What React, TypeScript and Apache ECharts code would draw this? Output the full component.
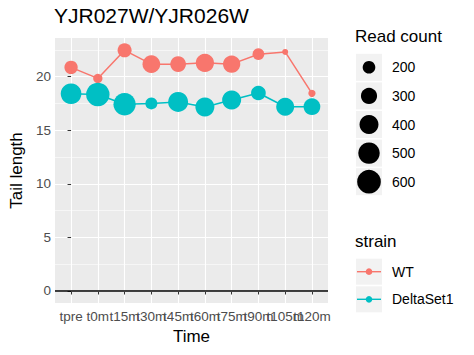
import React, { useEffect, useRef } from 'react';
import * as echarts from 'echarts';

const categories = ['tpre', 't0m', 't15m', 't30m', 't45m', 't60m', 't75m', 't90m', 't105m', 't120m'];
const wtTail = [20.86, 19.83, 22.45, 21.16, 21.16, 21.28, 21.16, 22.09, 22.3, 18.44];
const wtCount = [217, 126, 236, 353, 286, 375, 339, 177, 76, 93];
const dsTail = [18.4, 18.33, 17.42, 17.5, 17.64, 17.16, 17.82, 18.47, 17.19, 17.19];
const dsCount = [468, 590, 537, 184, 440, 401, 401, 256, 364, 319];
const sizeBreaks = [200, 300, 400, 500, 600];
const yTicks = [0, 5, 10, 15, 20];
const yMinor = [2.5, 7.5, 12.5, 17.5, 22.5];
const strains = ['WT', 'DeltaSet1'];

const colors = ['#F8766D', '#00BFC4'];
const FONT = "'Liberation Sans', Arial, Helvetica, sans-serif";
const sizeOf = (v: number) => Math.sqrt(Math.max(v - 40, 16));

export default function App() {
  const ref = useRef<HTMLDivElement>(null);
  useEffect(() => {
    const chart = echarts.init(ref.current!, null, { renderer: 'svg' });
    const xIdx = categories.map((_, i) => i);
    const evenIdx = xIdx.filter((i) => i % 2 === 0);
    const oddIdx = xIdx.filter((i) => i % 2 === 1);
    const toData = (tails: number[], counts: number[]) => tails.map((t, i) => [i, t, counts[i]]);

    const graphic: any[] = [];
    graphic.push({
      type: 'text', x: 355, y: 36.5,
      style: { text: 'Read count', fontSize: 17, fontFamily: FONT, fill: '#000', verticalAlign: 'middle', align: 'left' },
    });
    sizeBreaks.forEach((b, i) => {
      const cy = 67.3 + i * 28.6;
      graphic.push({ type: 'rect', shape: { x: 356, y: cy - 13.5, width: 26, height: 27 }, style: { fill: '#F2F2F2' } });
      graphic.push({ type: 'circle', shape: { cx: 369, cy, r: sizeOf(b) / 2 }, style: { fill: '#000' } });
      graphic.push({
        type: 'text', x: 392, y: cy,
        style: { text: String(b), fontSize: 14, fontFamily: FONT, fill: '#000', verticalAlign: 'middle', align: 'left' },
      });
    });
    graphic.push({
      type: 'text', x: 355, y: 241,
      style: { text: 'strain', fontSize: 17, fontFamily: FONT, fill: '#000', verticalAlign: 'middle', align: 'left' },
    });
    strains.forEach((s, i) => {
      const cy = 271.7 + i * 27.6;
      graphic.push({ type: 'rect', shape: { x: 356, y: cy - 13, width: 26, height: 26 }, style: { fill: '#F2F2F2' } });
      graphic.push({ type: 'line', shape: { x1: 357, y1: cy, x2: 381, y2: cy }, style: { stroke: colors[i], lineWidth: 1.4 } });
      graphic.push({ type: 'circle', shape: { cx: 369, cy, r: 3.3 }, style: { fill: colors[i] } });
      graphic.push({
        type: 'text', x: 392, y: cy,
        style: { text: s, fontSize: 14, fontFamily: FONT, fill: '#000', verticalAlign: 'middle', align: 'left' },
      });
    });

    const mkSeries = (name: string, tails: number[], counts: number[], color: string, withLine: boolean) => ({
      name,
      type: 'line',
      xAxisIndex: 0,
      yAxisIndex: 0,
      data: toData(tails, counts),
      symbol: 'circle',
      symbolSize: (v: number[]) => sizeOf(v[2]),
      itemStyle: { color },
      lineStyle: { color, width: 1.5 },
      emphasis: { disabled: true },
      silent: true,
      z: 3,
      markLine: withLine
        ? {
            silent: true,
            symbol: ['none', 'none'],
            label: { show: false },
            lineStyle: { color: '#000', width: 1.6, type: 'solid' },
            data: [{ yAxis: 0 }],
          }
        : undefined,
    });

    const xLabelBase = {
      formatter: (v: number) => categories[Math.round(v)] ?? '',
      color: '#4D4D4D', fontSize: 13.5, margin: 6, fontFamily: FONT,
      hideOverlap: false,
    };

    chart.setOption({
      animation: false,
      textStyle: { fontFamily: FONT },
      title: {
        text: 'YJR027W/YJR026W',
        left: 54,
        top: 5,
        padding: 0,
        textStyle: { fontSize: 21, fontWeight: 'normal', color: '#000', fontFamily: FONT },
      },
      grid: {
        left: 54, right: 146, top: 38, bottom: 52,
        show: true, backgroundColor: '#EBEBEB', borderWidth: 0,
      },
      xAxis: [
        {
          type: 'value',
          position: 'bottom',
          min: -0.6,
          max: categories.length - 1 + 0.6,
          axisLine: { show: false },
          axisTick: { show: true, customValues: xIdx, length: 3.5, lineStyle: { color: '#333333', width: 1 } },
          axisLabel: { ...xLabelBase, customValues: evenIdx },
          splitLine: { show: true, lineStyle: { color: '#FFFFFF', width: 1.1 } },
          name: 'Time',
          nameLocation: 'middle',
          nameGap: 25,
          nameTextStyle: { fontSize: 17, color: '#000', fontFamily: FONT },
        },
        {
          type: 'value',
          position: 'bottom',
          offset: 0,
          min: -0.6,
          max: categories.length - 1 + 0.6,
          axisLine: { show: false },
          axisTick: { show: false, customValues: oddIdx },
          axisLabel: { ...xLabelBase, customValues: oddIdx },
          splitLine: { show: false },
        },
      ],
      yAxis: [
        {
          type: 'value',
          min: -1.12,
          max: 23.6,
          axisLine: { show: false },
          axisTick: { show: true, customValues: yTicks, length: 3.5, lineStyle: { color: '#333333', width: 1 } },
          axisLabel: {
            customValues: yTicks, showMinLabel: true, showMaxLabel: true,
            color: '#4D4D4D', fontSize: 13.5, margin: 4, fontFamily: FONT,
          },
          splitLine: { show: true, lineStyle: { color: '#FFFFFF', width: 1.1 } },
          name: 'Tail length',
          nameLocation: 'middle',
          nameGap: 30,
          nameTextStyle: { fontSize: 17, color: '#000', fontFamily: FONT },
          z: 1,
        },
        {
          type: 'value',
          min: -1.12,
          max: 23.6,
          position: 'left',
          axisLine: { show: false },
          axisTick: { show: false, customValues: yMinor },
          axisLabel: { show: false, customValues: yMinor },
          splitLine: { show: true, lineStyle: { color: '#FFFFFF', width: 0.55 } },
          z: 0,
        },
      ],
      series: [
        mkSeries('WT', wtTail, wtCount, colors[0], true),
        mkSeries('DeltaSet1', dsTail, dsCount, colors[1], false),
      ],
      graphic,
    });
    return () => chart.dispose();
  }, []);
  return <div ref={ref} style={{ position: 'absolute', left: 0, top: 0, width: 474, height: 355 }} />;
}
